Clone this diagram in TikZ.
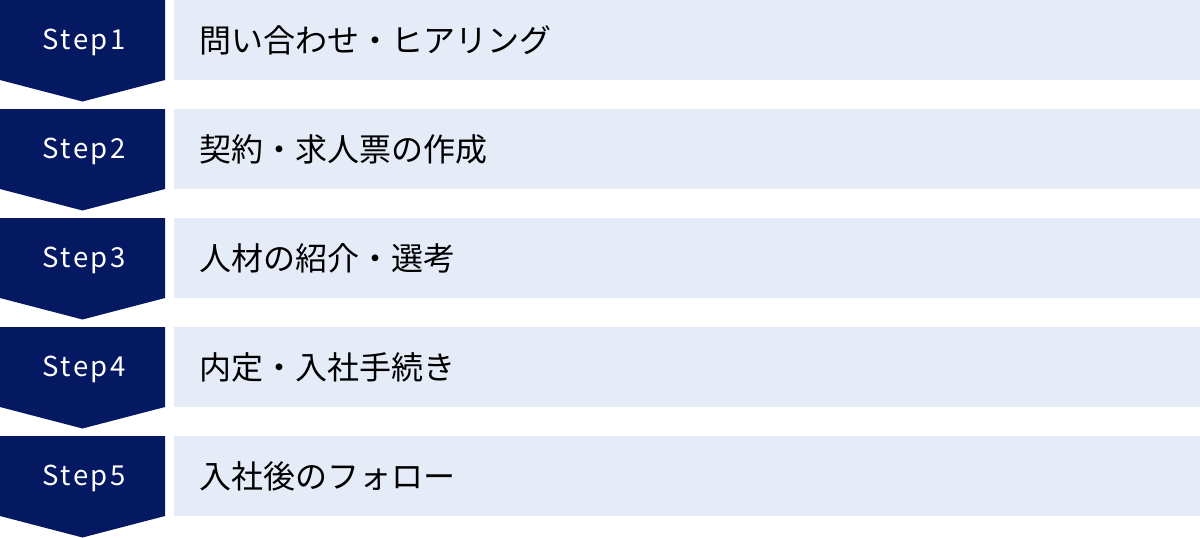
\documentclass[tikz,border=0pt]{standalone}
\usepackage{fontspec}
\newfontfamily\jpfont{Noto Sans CJK JP}
\newfontfamily\stepfont[LetterSpace=9]{Noto Sans CJK JP}
\definecolor{navy}{HTML}{051962}
\definecolor{pale}{HTML}{E6EBF8}
\tikzset{
  stepshape/.style={fill=navy,draw=none},
  labelbox/.style={fill=pale,draw=none,anchor=north west,minimum width=1026pt,minimum height=80pt,inner sep=0pt},
  steptext/.style={text=white,font=\stepfont\fontsize{27.5pt}{28pt}\selectfont,anchor=center},
  jptext/.style={text=black,font=\jpfont\fontsize{32pt}{32pt}\selectfont,anchor=west,inner sep=0pt}
}
\begin{document}
\begin{tikzpicture}[x=1pt,y=-1pt]
\useasboundingbox (0,0) rectangle (1200,538);
\foreach \i/\lab in {0/問い合わせ・ヒアリング,1/契約・求人票の作成,2/人材の紹介・選考,3/内定・入社手続き,4/入社後のフォロー}{
  \pgfmathsetmacro{\t}{109*\i}
  \fill[stepshape] (0,\t) -- (165,\t) -- (165,\t+80) -- (82.5,\t+101.5) -- (0,\t+80) -- cycle;
  \pgfmathtruncatemacro{\n}{\i+1}
  \node[steptext] (s\n) at (84,\t+42) {Step\n};
  \node[labelbox] (b\n) at (174,\t) {};
  \node[jptext] (t\n) at (199,\t+40) {\lab};
}
\end{tikzpicture}
\end{document}
